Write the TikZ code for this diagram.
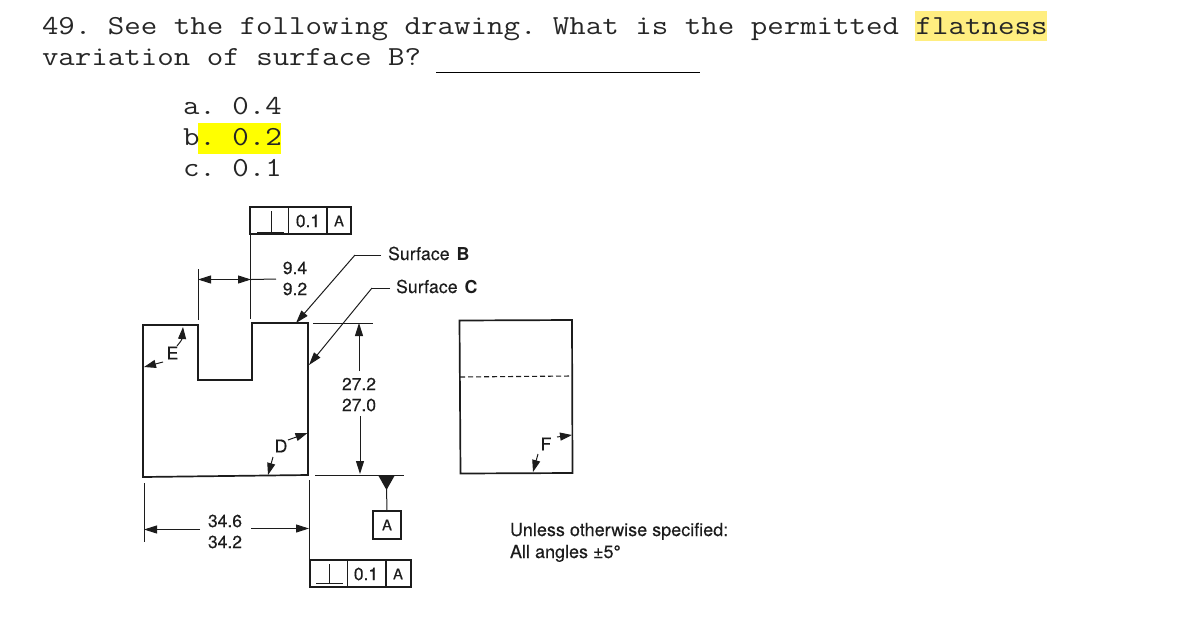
\documentclass[tikz,border=0pt]{standalone}
\usepackage{fontspec}
\setmainfont[UprightFeatures={FakeBold=0.25}]{TeX Gyre Heros}
\newfontfamily\qmono[FakeStretch=1.164]{Latin Modern Mono}
\usetikzlibrary{arrows.meta}
\definecolor{ink}{HTML}{1C1C1C}
\definecolor{softhl}{HTML}{FFEE80}
\definecolor{hardhl}{HTML}{FFFF00}
\tikzset{
  x=1pt,y=-1pt,
  qtext/.style={anchor=base west,inner sep=0pt,outer sep=0pt,font=\qmono\fontsize{27.5}{30}\selectfont\frenchspacing,text=black!85},
  lbl/.style={inner sep=0pt,outer sep=0pt,font=\fontsize{17.5}{20}\selectfont,text=ink},
  lblw/.style={lbl,anchor=base west},
  thin line/.style={draw=ink,line width=1pt},
  part line/.style={draw=ink,line width=1.7pt},
  tip/.style={-{Triangle[length=13pt,width=8pt]},draw=ink,line width=1pt},
  tipb/.style={-{Triangle[length=12pt,width=8pt]},draw=ink,line width=1pt},
  box/.style={draw=ink,line width=1.3pt,fill=none},
}
\begin{document}
\begin{tikzpicture}
\useasboundingbox (0,0) rectangle (1199,619);
% highlights
\fill[softhl] (915,11) rectangle (1047,41);
\fill[hardhl] (198,123) rectangle (281,154);
% question
\node[qtext] (q1) at (42,34) {49. See the following drawing. What is the permitted flatness};
\node[qtext] (q2) at (42,65) {variation of surface B?};
\draw[line width=1pt,black] (436,72.5) -- (700,72.5);
\node[qtext] (a) at (183,114) {a. 0.4};
\node[qtext] (b) at (183,145) {b. 0.2};
\node[qtext] (c) at (183,176) {c. 0.1};
% part
\draw[part line] (143,325) -- (198,325) -- (198,380) -- (252,380) -- (252,323) -- (308,323) -- (308,475) -- (143,477) -- cycle;
\draw[part line] (459.5,320.5) -- (572,320) -- (572.5,473) -- (460.5,473.5) -- cycle;
\draw[draw=ink,line width=1.1pt,dash pattern=on 5pt off 3pt] (460,377) -- (572,376);
% top frame
\draw[box] (250,207) rectangle (351,234);
\draw[box] (288.5,207) -- (288.5,234) (327,207) -- (327,234);
\draw[thin line] (257,232.5) -- (284,232.5) (271,211) -- (271,232.5);
\node[lbl] (t01) at (308,221) {0.1};
\node[lbl,font=\fontsize{15}{18}\selectfont] (tA) at (339,221) {A};
% 9.4 / 9.2
\draw[thin line] (250.5,234) -- (250.5,319) (198,269) -- (198,320);
\coordinate (dl) at (198,279.5); \coordinate (dr) at (251,279.5); \coordinate (dm) at (224,279.5);
\draw[tip] (dm) -- (dl);
\draw[tip] (dm) -- (dr);
\draw[thin line] (dr) -- (276,279);
\node[lbl] (n94) at (295,268) {9.4};
\node[lbl] (n92) at (295,289) {9.2};
% surface leaders
\node[lblw,font=\fontsize{17.8}{20}\selectfont] (sb) at (388,260) {Surface\hspace{7pt}\textbf{B}};
\node[lblw,font=\fontsize{17.8}{20}\selectfont] (sc) at (396,293) {Surface\hspace{7pt}\textbf{C}};
\coordinate (bend1) at (355,255); \coordinate (tipb) at (296,323);
\coordinate (bend2) at (372,288); \coordinate (tipc) at (309,365);
\draw[thin line] (sb.west |- 0,255) ++(-7,0) -- (bend1);
\draw[tip] (bend1) -- (tipb);
\draw[thin line] (sc.west |- 0,288) ++(-6,0) -- (bend2);
\draw[tip] (bend2) -- (tipc);
% 27.2 / 27.0
\draw[thin line] (313,323) -- (373,323);
\draw[thin line] (315,475) -- (404,475);
\coordinate (vt) at (359,323); \coordinate (vb) at (360,474);
\draw[tip] (359,371) -- (vt);
\draw[tip] (360,416) -- (vb);
\node[lbl] (n272) at (359,384) {27.2};
\node[lbl] (n270) at (359,405) {27.0};
% datum
\fill[ink] (378,475) -- (395,475) -- (386.5,490) -- cycle;
\node[box,draw,minimum width=28pt,minimum height=28pt,inner sep=0pt,font=\fontsize{15}{18}\selectfont,text=ink] (dA) at (387,525) {A};
\draw[thin line] (386.5,488) -- (dA.north);
% 34.6 / 34.2
\draw[thin line] (144,483) -- (144,542) (309,480) -- (309,560);
\node[lbl] (n346) at (225,521) {34.6};
\node[lbl] (n342) at (225,542) {34.2};
\draw[tip] (200,529.5) -- (144,529.5);
\draw[tip] (251,528.5) -- (309,528.5);
% bottom frame
\draw[box] (310,560) rectangle (411,587);
\draw[box] (347.5,560) -- (347.5,587) (386,560) -- (386,587);
\draw[thin line] (316,583.5) -- (343,583.5) (329,564) -- (329,583.5);
\node[lbl] (b01) at (366,574) {0.1};
\node[lbl,font=\fontsize{15}{18}\selectfont] (bA) at (398,574) {A};
% view labels
\node[lbl] (E) at (172.5,353) {E};
\draw[tipb] (177,346) .. controls (180,342) and (182,340) .. (183,327);
\draw[tipb] (163,362) -- (144,367);
\node[lbl] (D) at (281,446) {D};
\draw[tipb] (288,440) -- (307.5,433);
\draw[tipb] (273,457) -- (268,475);
\node[lbl] (F) at (546,444) {F};
\draw[tipb] (557,437) -- (572,435);
\draw[tipb] (538,454) -- (533,472);
% note
\node[lblw,font=\fontsize{18}{20}\selectfont] (u1) at (510,536) {Unless otherwise specified:};
\node[lblw,font=\fontsize{18}{20}\selectfont] (u2) at (510,558) {All angles ±5°};
\end{tikzpicture}
\end{document}
